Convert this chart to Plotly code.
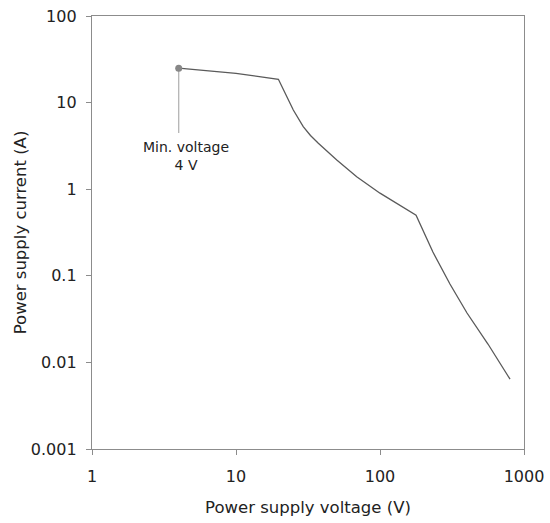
import numpy as np
import plotly.graph_objects as go

# Power supply operating curve
voltage = [4, 10, 19.7, 21.9, 25.0, 29.3, 32.9, 37.3, 50.1, 68.9, 100, 178,
           233, 306, 402, 562, 800]
current = [25.0, 21.8, 18.6, 12.8, 8.2, 5.27, 4.17, 3.39, 2.17, 1.39, 0.90, 0.50,
           0.188, 0.0804, 0.0372, 0.0163, 0.0064]

# Minimum voltage marker
min_voltage = [4]
min_current = [25.0]
leader_current = [25.0, 4.46]
annot_text = "Min. voltage<br>4 V"

x_ticks = [1, 10, 100, 1000]
x_ticklabels = ["1", "10", "100", "1000"]
y_ticks = [0.001, 0.01, 0.1, 1, 10, 100]
y_ticklabels = ["0.001", "0.01", "0.1", "1", "10", "100"]

FONT = "DejaVu Sans, Verdana, sans-serif"
AXIS_COLOR = "#8c8c8c"

fig = go.Figure()

fig.add_trace(go.Scatter(
    x=[min_voltage[0], min_voltage[0]], y=leader_current,
    mode="lines", line=dict(color="#b4b4b4", width=1.3),
    hoverinfo="skip", showlegend=False))

fig.add_trace(go.Scatter(
    x=voltage, y=current, mode="lines",
    line=dict(color="#5a5a5a", width=1.3), showlegend=False))

fig.add_trace(go.Scatter(
    x=min_voltage, y=min_current, mode="markers",
    marker=dict(color="#878787", size=7), showlegend=False))

fig.add_annotation(
    x=np.log10(min_voltage[0]), y=np.log10(leader_current[1]),
    xref="x", yref="y", text=annot_text, showarrow=False,
    xanchor="center", yanchor="top", xshift=7, yshift=-4,
    font=dict(family=FONT, size=14, color="#222222"), align="center")

axis_common = dict(
    type="log", showgrid=False, zeroline=False, automargin=False,
    showline=True, linecolor=AXIS_COLOR, linewidth=1.3, mirror=True,
    ticks="outside", ticklen=5, tickcolor=AXIS_COLOR, tickwidth=1.3,
    tickfont=dict(family=FONT, size=16, color="#222222"),
)

fig.update_xaxes(
    **axis_common,
    range=[0, 3], tickvals=x_ticks, ticktext=x_ticklabels,
    ticklabelstandoff=8,
    title=dict(text="Power supply voltage (V)", font=dict(family=FONT, size=16.5, color="#222222"), standoff=16),
)
fig.update_yaxes(
    **axis_common,
    range=[-3, 2], tickvals=y_ticks, ticktext=y_ticklabels,
    ticklabelstandoff=6,
    title=dict(text="Power supply current (A)", font=dict(family=FONT, size=16.5, color="#222222"), standoff=0),
)

fig.update_layout(
    width=550, height=523,
    margin=dict(l=92, r=26, t=16, b=74),
    paper_bgcolor="white", plot_bgcolor="white",
    font=dict(family=FONT),
)

fig.write_html("out.html", config={"displayModeBar": False},
               post_script="document.body.style.margin='0';")
